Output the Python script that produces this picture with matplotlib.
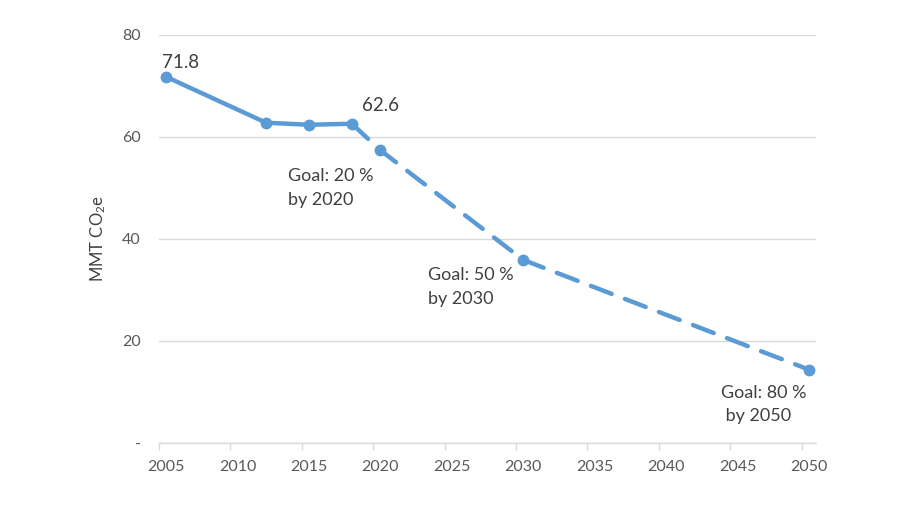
import matplotlib
matplotlib.use("Agg")
import matplotlib.pyplot as plt
from matplotlib.ticker import FixedLocator, FuncFormatter

plt.rcParams['font.family'] = ['Lato', 'DejaVu Sans']
plt.rcParams['mathtext.fontset'] = 'custom'
plt.rcParams['mathtext.rm'] = 'Lato'
plt.rcParams['mathtext.it'] = 'Lato:italic'

# ---- data ----
years = [2005, 2012, 2015, 2018, 2020, 2030, 2050]
values = [71.8, 62.8, 62.4, 62.6, 57.4, 35.9, 14.4]
n_actual = 4  # first points are actual (solid), the rest are goals (dashed)
value_labels = {0: "71.8", 3: "62.6"}
goal_labels = {4: "Goal: 20 %\nby 2020", 5: "Goal: 50 %\nby 2030", 6: "Goal: 80 %\n by 2050"}
x_ticks = [2005, 2010, 2015, 2020, 2025, 2030, 2035, 2040, 2045, 2050]
y_ticks = [0, 20, 40, 60, 80]

blue = '#5B9BD5'
grid_c = '#D9D9D9'
tick_c = '#595959'
text_c = '#404040'

fig = plt.figure(figsize=(9.15, 5.15), dpi=100)
ax = fig.add_axes([159/915, 1-443/515, (816-159)/915, (443-35)/515])

# dashed goal path
ax.plot(years[n_actual-1:], values[n_actual-1:], color=blue, lw=3.2,
        linestyle=(0, (5, 3.2)), dash_capstyle='round', zorder=3)
# solid actual path
ax.plot(years[:n_actual], values[:n_actual], color=blue, lw=3.2,
        solid_capstyle='round', solid_joinstyle='round', zorder=4)
ax.plot(years, values, linestyle='none', marker='o', ms=7.5,
        color=blue, zorder=5)

ax.set_xlim(2004.5, 2050.5)
ax.set_ylim(0, 80)

ax.xaxis.set_major_locator(FixedLocator(x_ticks))
ax.xaxis.set_minor_locator(FixedLocator([t - 0.5 for t in x_ticks]))
ax.tick_params(axis='x', which='major', length=0, pad=12, labelsize=11.5, labelcolor=tick_c)
ax.tick_params(axis='x', which='minor', length=5, width=1, color=grid_c)

ax.yaxis.set_major_locator(FixedLocator(y_ticks))
ax.yaxis.set_major_formatter(FuncFormatter(lambda v, p: '-' if v == 0 else f'{v:g}'))
ax.tick_params(axis='y', length=0, pad=13, labelsize=11.5, labelcolor=tick_c)

ax.grid(axis='y', color=grid_c, lw=1)
ax.set_axisbelow(True)
for s in ['top', 'right', 'left']:
    ax.spines[s].set_visible(False)
ax.spines['bottom'].set_color(grid_c)
ax.spines['bottom'].set_linewidth(1)

ax.set_ylabel('MMT CO$_2$e', fontsize=12, color=text_c, labelpad=10)

offsets_val = {0: (14, 14), 3: (29, 18)}
for i, txt in value_labels.items():
    ax.annotate(txt, (years[i], values[i]), xytext=offsets_val[i], textcoords='offset pixels',
                ha='center', va='center', fontsize=13.5, color=text_c)

offsets_goal = {4: (-92, -38), 5: (-95, -27), 6: (-88, -35)}
for i, txt in goal_labels.items():
    ax.annotate(txt, (years[i], values[i]), xytext=offsets_goal[i], textcoords='offset pixels',
                ha='left', va='center', fontsize=13, color=text_c, linespacing=1.6)

fig.savefig('out.png', dpi=100)
